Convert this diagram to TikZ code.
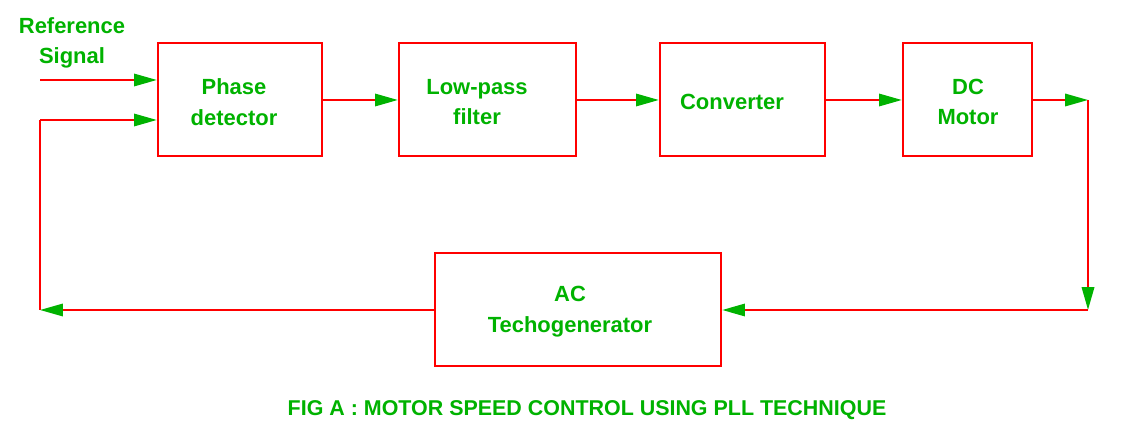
\documentclass[tikz,border=0pt]{standalone}
\usepackage{fontspec}
\setmainfont{Liberation Sans}
\usetikzlibrary{arrows.meta}
\definecolor{gr}{RGB}{0,178,0}
\definecolor{rd}{RGB}{255,0,0}
\begin{document}
\begin{tikzpicture}[x=0.02cm,y=-0.02cm,
  blk/.style={draw=rd,line width=1.3pt,minimum width=#1*0.02cm,minimum height=113*0.02cm,inner sep=0pt},
  txt/.style={text=gr,font=\bfseries\fontsize{12.5}{17.5}\selectfont,align=center},
  ln/.style={draw=rd,line width=1.3pt},
  ar/.style={ln,-{Triangle[color=gr,fill=gr,length=13pt,width=7pt]}},
  lab/.style={text=gr,font=\bfseries\fontsize{12.5}{17.5}\selectfont,align=center}]
\useasboundingbox (0,0) rectangle (1135,435);
\node[blk=164] (pd) at (240,99.5) {};
\node[blk=177] (lp) at (487.5,99.5) {};
\node[blk=165] (cv) at (742.5,99.5) {};
\node[blk=129] (dc) at (967.5,99.5) {};
\node[blk=286] (ac) at (578,309.5) {};
\node[txt] (pdt) at (234,102) {Phase\\detector};
\node[txt] (lpt) at (477,102) {Low-pass\\filter};
\node[txt] (cvt) at (732,102) {Converter};
\node[txt] (dct) at (968,102) {DC\\Motor};
\node[txt] (act) at (570,312) {AC\\Techogenerator};
\node[lab] (ref) at (72,43) {Reference\\Signal};
\node[text=gr,font=\bfseries\fontsize{12.2}{14}\selectfont] (cap) at (587,410) {FIG A : MOTOR SPEED CONTROL USING PLL TECHNIQUE};
\coordinate (rs) at (40,80);
\coordinate (c1) at (1088,100);
\coordinate (c2) at (1088,310);
\coordinate (c3) at (40,310);
\coordinate (c4) at (40,120);
\draw[ar] (rs) -- (rs -| pd.west);
\draw[ar] (pd.east |- 0,100) -- (lp.west |- 0,100);
\draw[ar] (lp.east |- 0,100) -- (cv.west |- 0,100);
\draw[ar] (cv.east |- 0,100) -- (dc.west |- 0,100);
\draw[ar] (dc.east |- 0,100) -- (c1);
\draw[ar] (c1) -- (c2);
\draw[ar] (c2) -- (ac.east |- c2);
\draw[ar] (ac.west |- c3) -- (c3);
\draw[ln] (c3) -- (c4);
\draw[ar] (c4) -- (c4 -| pd.west);
\end{tikzpicture}
\end{document}
